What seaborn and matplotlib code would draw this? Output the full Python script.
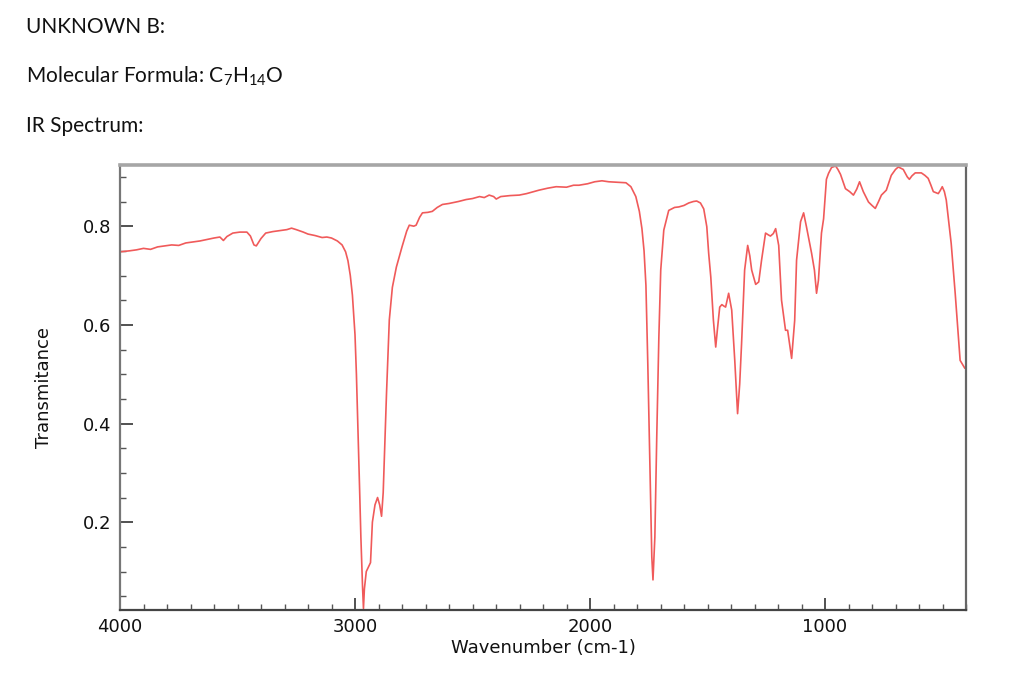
import matplotlib
matplotlib.use("Agg")
import matplotlib.pyplot as plt
import seaborn as sns
import pandas as pd
from matplotlib.ticker import MultipleLocator

# ---- data ----
wavenumber = [
    4000, 3960, 3930, 3900, 3870, 3840, 3810, 3780, 3750, 3720, 3690, 3660, 3630, 3600,
    3575, 3560, 3545, 3520, 3490, 3460, 3445, 3430, 3420, 3400, 3380, 3350, 3320, 3290,
    3270, 3250, 3220, 3200, 3170, 3140, 3120, 3100, 3075, 3055, 3040, 3030, 3020, 3011,
    3000, 2994, 2988, 2980, 2975, 2968, 2964, 2960, 2952, 2940, 2934, 2926, 2915, 2904,
    2895, 2887, 2880, 2875, 2866, 2854, 2841, 2824, 2800, 2780, 2769, 2750, 2740, 2725,
    2713, 2690, 2671, 2650, 2628, 2600, 2560, 2527, 2500, 2470, 2450, 2429, 2410, 2399,
    2380, 2340, 2301, 2270, 2240, 2217, 2180, 2144, 2100, 2070, 2047, 2010, 1980, 1949,
    1920, 1880, 1847, 1826, 1805, 1790, 1779, 1770, 1762, 1754, 1745, 1737, 1732, 1724,
    1716, 1707, 1699, 1686, 1665, 1640, 1622, 1600, 1580, 1560, 1546, 1530, 1516, 1503,
    1495, 1486, 1475, 1465, 1458, 1448, 1439, 1430, 1423, 1410, 1397, 1384, 1372, 1363,
    1355, 1342, 1329, 1320, 1312, 1295, 1282, 1270, 1253, 1240, 1232, 1220, 1210, 1197,
    1185, 1168, 1159, 1142, 1129, 1121, 1104, 1091, 1079, 1065, 1057, 1045, 1036, 1028,
    1015, 1006, 994, 985, 972, 955, 945, 934, 913, 895, 879, 865, 853, 837, 815, 800,
    786, 772, 760, 739, 718, 700, 688, 667, 650, 641, 630, 616, 590, 575, 561, 550,
    539, 518, 510, 501, 492, 484, 463, 446, 425, 405,
]
transmittance = [
    0.748, 0.750, 0.752, 0.755, 0.753, 0.758, 0.760, 0.762, 0.761, 0.766, 0.768, 0.770, 0.773, 0.776,
    0.778, 0.771, 0.779, 0.786, 0.788, 0.788, 0.780, 0.762, 0.760, 0.775, 0.786, 0.789, 0.791, 0.793,
    0.796, 0.793, 0.788, 0.784, 0.781, 0.777, 0.778, 0.776, 0.770, 0.762, 0.748, 0.730, 0.700, 0.660,
    0.580, 0.500, 0.400, 0.260, 0.170, 0.070, 0.025, 0.065, 0.100, 0.112, 0.118, 0.200, 0.235, 0.250,
    0.235, 0.212, 0.260, 0.330, 0.460, 0.610, 0.676, 0.717, 0.758, 0.790, 0.802, 0.800, 0.802, 0.818,
    0.827, 0.828, 0.830, 0.838, 0.844, 0.846, 0.850, 0.854, 0.856, 0.860, 0.858, 0.863, 0.860, 0.855,
    0.860, 0.862, 0.863, 0.866, 0.870, 0.873, 0.877, 0.880, 0.879, 0.883, 0.883, 0.886, 0.890, 0.892,
    0.890, 0.889, 0.888, 0.880, 0.860, 0.830, 0.795, 0.750, 0.680, 0.520, 0.310, 0.130, 0.083, 0.170,
    0.372, 0.575, 0.711, 0.792, 0.832, 0.838, 0.839, 0.842, 0.847, 0.850, 0.851, 0.847, 0.835, 0.799,
    0.745, 0.697, 0.610, 0.555, 0.590, 0.636, 0.641, 0.638, 0.636, 0.664, 0.630, 0.528, 0.420, 0.480,
    0.562, 0.711, 0.761, 0.740, 0.711, 0.682, 0.687, 0.731, 0.786, 0.782, 0.780, 0.785, 0.795, 0.761,
    0.650, 0.589, 0.589, 0.532, 0.609, 0.731, 0.809, 0.827, 0.799, 0.765, 0.745, 0.711, 0.664, 0.690,
    0.786, 0.815, 0.895, 0.907, 0.919, 0.922, 0.915, 0.905, 0.876, 0.870, 0.863, 0.875, 0.890, 0.870, 0.849, 0.842,
    0.836, 0.850, 0.863, 0.873, 0.903, 0.915, 0.920, 0.915, 0.900, 0.895, 0.902, 0.908, 0.908, 0.903, 0.897, 0.884,
    0.870, 0.866, 0.872, 0.880, 0.870, 0.853, 0.765, 0.664, 0.528, 0.512,
]
x_ticks = [4000, 3000, 2000, 1000]
y_ticks = [0.2, 0.4, 0.6, 0.8]

title_lines = ["UNKNOWN B:", "Molecular Formula: C$_7$H$_{14}$O", "IR Spectrum:"]
x_label = "Wavenumber (cm-1)"
y_label = "Transmitance"

df = pd.DataFrame({"wn": wavenumber, "T": transmittance})

sns.set_style("white")
plt.rcParams["font.family"] = ["DejaVu Sans"]
plt.rcParams["mathtext.fontset"] = "custom"
plt.rcParams["mathtext.rm"] = "Lato"
plt.rcParams["mathtext.it"] = "Lato"

fig = plt.figure(figsize=(10.24, 6.84), dpi=100)
ax = fig.add_axes([120 / 1024, 1 - 610 / 684, (966 - 120) / 1024, (610 - 165) / 684])

sns.lineplot(data=df, x="wn", y="T", ax=ax, color="#f05a5a", linewidth=1.2,
             estimator=None, sort=False)

ax.set_xlim(4000, 400)
ax.set_ylim(0.022, 0.924)
ax.set_xticks(x_ticks)
ax.set_yticks(y_ticks)
ax.set_xticklabels([str(v) for v in x_ticks])
ax.set_yticklabels([f"{v:.1f}" for v in y_ticks])
ax.xaxis.set_minor_locator(MultipleLocator(100))
ax.yaxis.set_minor_locator(MultipleLocator(0.05))
ax.tick_params(axis="both", which="major", direction="in", length=9, width=1.2,
               color="#333333", labelsize=13, labelcolor="#111111", pad=6)
ax.tick_params(axis="both", which="minor", direction="in", length=4, width=1.0,
               color="#555555")
ax.tick_params(axis="x", which="both", top=False, bottom=True)
ax.tick_params(axis="y", which="both", left=True, right=False)

ax.set_xlabel(x_label, fontsize=13, color="#111111", labelpad=2)
ax.set_ylabel(y_label, fontsize=13, color="#111111", labelpad=22)

ax.spines["left"].set_color("#777777")
ax.spines["left"].set_linewidth(1.6)
ax.spines["bottom"].set_color("#444444")
ax.spines["bottom"].set_linewidth(1.6)
ax.spines["top"].set_color("#a6a6a6")
ax.spines["top"].set_linewidth(2.6)
ax.spines["right"].set_color("#666666")
ax.spines["right"].set_linewidth(1.6)

baselines = [33, 83, 132]
for txt, yb in zip(title_lines, baselines):
    fig.text(26 / 1024, 1 - yb / 684, txt, fontsize=15, family=["Lato", "DejaVu Sans"],
             color="#111111", ha="left", va="baseline")

fig.savefig("out.png", dpi=100, facecolor="white")
